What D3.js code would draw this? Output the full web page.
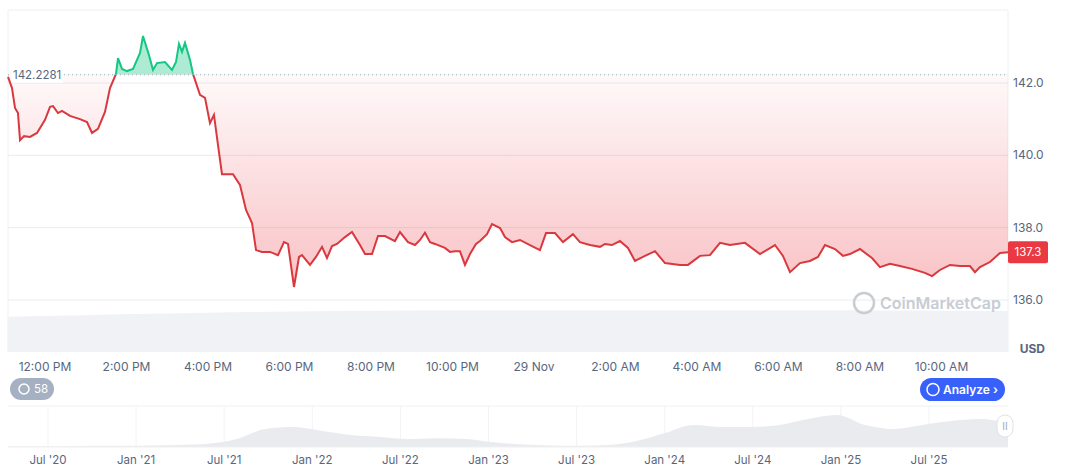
<!DOCTYPE html><html><head><meta charset="utf-8">
<script src="https://cdn.jsdelivr.net/npm/d3@7"></script>
<style>body{margin:0;background:#fff;font-family:Inter,"Open Sans",sans-serif}</style></head><body>
<svg id="c" width="1072" height="470"></svg>
<script>
const minutes=[5.5,11.4,15.8,20.2,23.2,29.1,37.9,48.2,60,67.4,71.8,79.1,85,96.8,111.5,121.8,129.2,138,148.3,155.7,164.5,167.5,173.4,180.7,189.6,199.9,204.3,213.1,219,224.9,236.7,247,252.9,257.3,261.7,266.1,273.5,277.9,288.2,295.6,302.9,308.8,314.7,320.6,326.5,336.8,347.1,356,364.8,370.7,379.5,391.3,403.1,411.9,417.8,426.6,434,438.4,450.2,459,467.9,475.2,482.6,489.9,501.7,512,523.8,531.2,541.5,550.3,560.6,575.3,582.7,594.5,604.8,612.2,619.5,626.9,634.2,648.9,656.3,663.7,671,678.4,685.8,694.6,700.5,710.8,718.2,730,737.3,747.6,759.4,774.1,788.8,797.7,810.9,822.7,837.4,847.7,862.5,877.2,884.5,894.8,906.6,918.4,928.7,943.4,958.2,972.9,995,1006.8,1024.4,1039.1,1053.9,1068.6,1090.7,1112.8,1134.9,1146.6,1157,1171.7,1186.4,1198.2,1208.5,1223.2,1235,1245.3,1260,1277.7,1289.5,1304.2,1318.9,1336.6,1355.7,1366.1,1377.8,1392.5,1407.3,1422,1429.4,1436.7,1451.4,1466.2,1478];
const prices=[142.17,141.86,141.31,141.17,140.42,140.53,140.51,140.62,140.98,141.34,141.36,141.17,141.23,141.09,141.0,140.92,140.62,140.73,141.2,141.86,142.25,142.69,142.39,142.33,142.39,142.83,143.3,142.77,142.36,142.55,142.58,142.36,142.58,143.08,142.86,143.11,142.64,142.25,141.67,141.59,140.89,141.12,140.29,139.48,139.48,139.48,139.18,138.49,138.13,137.38,137.33,137.33,137.24,137.6,137.55,136.36,137.19,137.24,136.97,137.19,137.47,137.16,137.49,137.55,137.74,137.88,137.52,137.27,137.27,137.77,137.77,137.63,137.88,137.6,137.52,137.66,137.86,137.6,137.55,137.44,137.33,137.35,137.35,136.97,137.27,137.55,137.63,137.82,138.1,137.99,137.74,137.6,137.66,137.52,137.38,137.85,137.85,137.6,137.82,137.6,137.52,137.47,137.55,137.52,137.63,137.44,137.08,137.22,137.35,137.02,136.97,136.97,137.22,137.24,137.58,137.52,137.58,137.27,137.52,137.22,136.77,137.02,137.08,137.19,137.52,137.41,137.22,137.27,137.41,137.16,136.91,137.0,136.94,136.86,136.75,136.66,136.83,136.97,136.94,136.94,136.77,136.91,137.05,137.3,137.32];
const baseline=142.2281;
const yTicks=[136,138,140,142];
const xTickMinutes=[60,180,300,420,540,660,780,900,1020,1140,1260,1380];
const xTickLabels=["12:00 PM","2:00 PM","4:00 PM","6:00 PM","8:00 PM","10:00 PM","29 Nov","2:00 AM","4:00 AM","6:00 AM","8:00 AM","10:00 AM"];
const volumeMin=[5,300,600,900,1200,1478];
const volumeVals=[0.8,0.9,0.95,0.95,0.95,0.93];
const navLabels=["Jul '20","Jan '21","Jul '21","Jan '22","Jul '22","Jan '23","Jul '23","Jan '24","Jul '24","Jan '25","Jul '25"];
const navVals=[0.02,0.02,0.02,0.03,0.03,0.04,0.05,0.08,0.2,0.45,0.5,0.4,0.3,0.25,0.2,0.22,0.2,0.12,0.06,0.04,0.03,0.05,0.15,0.35,0.55,0.5,0.5,0.55,0.7,0.8,0.55,0.45,0.55,0.65,0.7,0.6];

const svg=d3.select("#c");
const L=8,R=1008;
const x=d3.scaleLinear().domain([5.5,1478]).range([L,R]);
const y=d3.scaleLinear().domain([136,142]).range([300,83]);
const data=minutes.map((m,i)=>({m,p:prices[i]}));
const by=y(baseline);
svg.append("line").attr("x1",L).attr("x2",L).attr("y1",10).attr("y2",352).attr("stroke","#eef0f3");
svg.append("line").attr("x1",L).attr("x2",R).attr("y1",10).attr("y2",10).attr("stroke","#eef0f3");
svg.append("line").attr("x1",R).attr("x2",R).attr("y1",10).attr("y2",352).attr("stroke","#eef0f3");
svg.append("g").selectAll("line").data(yTicks).join("line").attr("x1",L).attr("x2",R)
 .attr("y1",d=>y(d)).attr("y2",d=>y(d)).attr("stroke","#e9ecef");
svg.append("g").selectAll("text").data(yTicks).join("text").attr("x",1013).attr("y",d=>y(d)+4)
 .attr("font-size",12).attr("fill","#58667e").text(d=>d.toFixed(1));
const vx=d3.scaleLinear().domain([0,1]).range([352,308]);
const defs=svg.append("defs");
const g1=defs.append("linearGradient").attr("id","rg").attr("gradientUnits","userSpaceOnUse").attr("x1",0).attr("x2",0).attr("y1",by).attr("y2",y(136.5));
g1.append("stop").attr("offset","0%").attr("stop-color","#ea3943").attr("stop-opacity",0.03);
g1.append("stop").attr("offset","100%").attr("stop-color","#ea3943").attr("stop-opacity",0.3);
defs.append("clipPath").attr("id","above").append("rect").attr("x",0).attr("y",0).attr("width",1072).attr("height",by);
defs.append("clipPath").attr("id","below").append("rect").attr("x",0).attr("y",by).attr("width",1072).attr("height",400-by);
svg.append("path").datum(volumeMin.map((m,i)=>[m,volumeVals[i]])).attr("d",d3.area().x(d=>x(d[0])).y0(352).y1(d=>vx(d[1])).curve(d3.curveBasis)).attr("fill","#f0f2f5");
const areaB=d3.area().x(d=>x(d.m)).y0(by).y1(d=>y(d.p));
svg.append("path").datum(data).attr("d",areaB).attr("fill","url(#rg)").attr("clip-path","url(#below)");
svg.append("path").datum(data).attr("d",areaB).attr("fill","#16c784").attr("opacity",0.35).attr("clip-path","url(#above)");
const line=d3.line().x(d=>x(d.m)).y(d=>y(d.p));
svg.append("path").datum(data).attr("d",line).attr("fill","none").attr("stroke","#d9383f").attr("stroke-width",2).attr("clip-path","url(#below)");
svg.append("path").datum(data).attr("d",line).attr("fill","none").attr("stroke","#16c784").attr("stroke-width",2).attr("clip-path","url(#above)");
svg.append("line").attr("x1",L).attr("x2",R).attr("y1",by).attr("y2",by).attr("stroke","#a1a7bb").attr("stroke-dasharray","1,3");
svg.append("rect").attr("x",11).attr("y",by-8).attr("width",52).attr("height",16).attr("fill","#fff");
svg.append("text").attr("x",13).attr("y",by+4).attr("font-size",11.5).attr("fill","#58667e").text(baseline.toFixed(4));
const last=prices[prices.length-1];
svg.append("rect").attr("x",1008).attr("y",y(last)-11).attr("width",40).attr("height",22).attr("rx",2).attr("fill","#ea3943");
svg.append("text").attr("x",1028).attr("y",y(last)+4).attr("text-anchor","middle").attr("font-size",11.5).attr("fill","#fff").text(last.toFixed(1));
svg.append("circle").attr("cx",864).attr("cy",303).attr("r",10).attr("fill","none").attr("stroke","#c8ccd3").attr("stroke-width",2.5);
svg.append("text").attr("x",880).attr("y",309).attr("font-size",16).attr("font-weight",600).attr("fill","#c8ccd3").text("CoinMarketCap");
svg.append("g").selectAll("text").data(xTickMinutes).join("text").attr("x",d=>x(d)).attr("y",371)
 .attr("text-anchor","middle").attr("font-size",12).attr("fill","#58667e").text((d,i)=>xTickLabels[i]);
svg.append("text").attr("x",1045).attr("y",353).attr("text-anchor","end").attr("font-size",12).attr("font-weight",700).attr("fill","#58667e").text("USD");
svg.append("rect").attr("x",10).attr("y",378).attr("width",44).attr("height",22).attr("rx",11).attr("fill","#a6b0c3");
svg.append("circle").attr("cx",24).attr("cy",389).attr("r",5).attr("fill","none").attr("stroke","#fff").attr("stroke-width",1.5);
svg.append("text").attr("x",34).attr("y",393).attr("font-size",11.5).attr("fill","#fff").text("58");
svg.append("rect").attr("x",920).attr("y",378).attr("width",85).attr("height",23).attr("rx",11.5).attr("fill","#3861fb");
svg.append("circle").attr("cx",933).attr("cy",389.5).attr("r",6).attr("fill","none").attr("stroke","#fff").attr("stroke-width",1.5);
svg.append("text").attr("x",943).attr("y",394).attr("font-size",12).attr("font-weight",600).attr("fill","#fff").text("Analyze ›");
const nx=d3.scaleLinear().domain([0,navVals.length-1]).range([L,R]);
const ny=d3.scaleLinear().domain([0,1]).range([447,407]);
svg.append("line").attr("x1",L).attr("x2",R).attr("y1",406).attr("y2",406).attr("stroke","#eef0f3");
const nlx=d3.scaleLinear().domain([0,navLabels.length-1]).range([48,929]);
svg.append("g").selectAll("line").data(navLabels).join("line").attr("x1",(d,i)=>nlx(i)).attr("x2",(d,i)=>nlx(i)).attr("y1",406).attr("y2",447).attr("stroke","#f2f3f5");
svg.append("path").datum(navVals).attr("d",d3.area().x((d,i)=>nx(i)).y0(447).y1(d=>ny(d)).curve(d3.curveMonotoneX)).attr("fill","#e9ebee");
svg.append("line").attr("x1",L).attr("x2",R).attr("y1",447).attr("y2",447).attr("stroke","#eef0f3");
svg.append("g").selectAll("text").data(navLabels).join("text").attr("x",(d,i)=>nlx(i)).attr("y",464)
 .attr("text-anchor","middle").attr("font-size",11.5).attr("fill","#58667e").text(d=>d);
svg.append("rect").attr("x",997).attr("y",415).attr("width",16).attr("height",22).attr("rx",8).attr("fill","#fff").attr("stroke","#dfe2e7");
svg.append("text").attr("x",1005).attr("y",430).attr("text-anchor","middle").attr("font-size",10).attr("fill","#a1a7bb").text("II");
</script></body></html>
